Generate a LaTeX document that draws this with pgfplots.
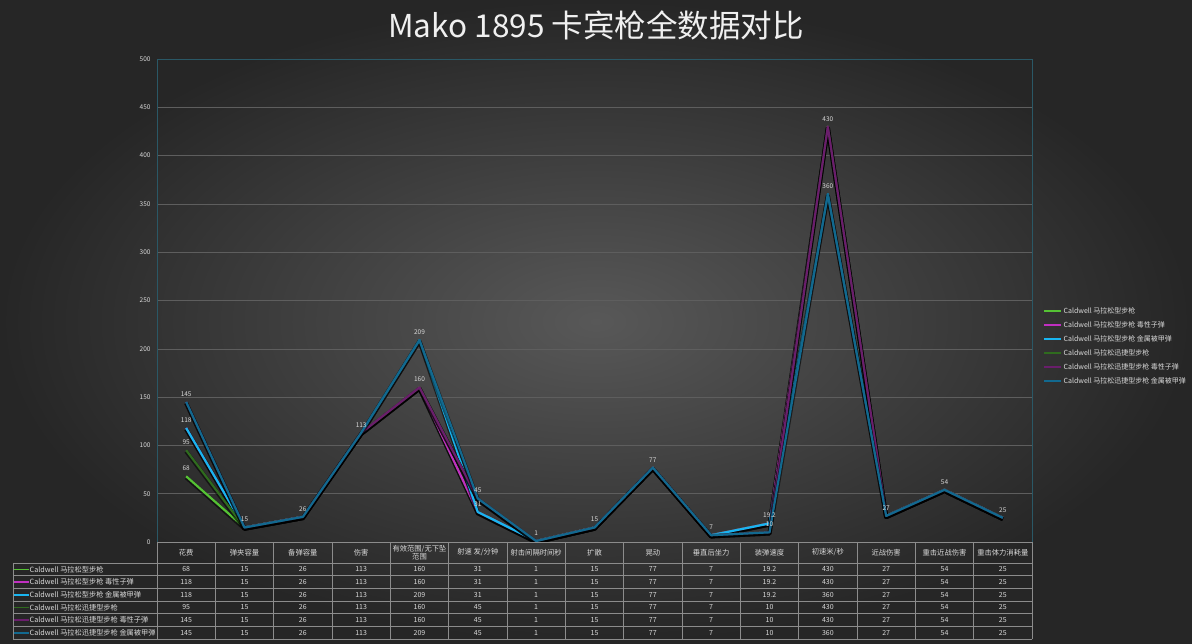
\documentclass[border=0pt]{standalone}
\usepackage{fontspec}
\setmainfont{Noto Sans CJK SC}
\usepackage{pgfplots}
\usepackage{pgfplotstable}
\pgfplotsset{compat=1.18}

\definecolor{bgin}{HTML}{585858}
\definecolor{bgout}{HTML}{262626}
\definecolor{sA}{HTML}{55C234}
\definecolor{sB}{HTML}{C02FC0}
\definecolor{sC}{HTML}{19B5F0}
\definecolor{sD}{HTML}{2F6B1E}
\definecolor{sE}{HTML}{6A1E6C}
\definecolor{sF}{HTML}{12698F}
\definecolor{txt}{HTML}{D9D9D9}
\definecolor{gridc}{HTML}{5E5E5E}
\definecolor{tbl}{HTML}{8C8C8C}
\definecolor{frame}{HTML}{2A5866}

% one row per category, one column per series
\pgfplotstableread{
x  s1   s2   s3   s4  s5  s6
0  68   118  118  95  145 145
1  15   15   15   15  15  15
2  26   26   26   26  26  26
3  113  113  113  113 113 113
4  160  160  209  160 160 209
5  31   31   31   45  45  45
6  1    1    1    1   1   1
7  15   15   15   15  15  15
8  77   77   77   77  77  77
9  7    7    7    7   7   7
10 19.2 19.2 19.2 10  10  10
11 430  430  360  430 430 360
12 27   27   27   27  27  27
13 54   54   54   54  54  54
14 25   25   25   25  25  25
}\datatable

\begin{document}
\begin{tikzpicture}
\begin{scope}[x=1pt,y=1pt]
\shade[inner color=bgin, outer color=bgout] (0,0) rectangle (1192,643);
\node[white!94!black, font=\fontsize{31.5}{32}\selectfont, anchor=base] at (596,605) {Mako 1895 卡宾枪全数据对比};
\end{scope}

\begin{axis}[
  at={(157pt,101pt)}, anchor=south west,
  scale only axis, width=875pt, height=483pt,
  xmin=-0.5, xmax=14.5, ymin=0, ymax=500,
  ytick={0,50,...,500}, xtick=\empty,
  ymajorgrids, grid style={gridc, line width=0.5pt},
  axis line style={frame, line width=0.6pt},
  major tick length=0pt,
  yticklabel style={txt, font=\fontsize{6.5}{6.5}\selectfont, xshift=-3pt},
  /pgf/number format/assume math mode=true,
  legend style={at={(1.009,0.406)}, anchor=west, fill=none, draw=none,
    text=txt, font=\fontsize{7}{7}\selectfont, row sep=2.6pt},
  legend cell align=left,
  legend image code/.code={\draw[#1, line width=1.6pt] (0pt,0pt) -- (17pt,0pt);},
  every axis plot/.append style={line join=round},
  shadow/.style={black, opacity=0.55, line width=4pt, forget plot, yshift=-1.2pt},
  lbl/.style={draw=none, mark=none, forget plot, nodes near coords,
    every node near coord/.append style={
    txt, font=\fontsize{6.5}{6.5}\selectfont, anchor=south, yshift=2pt, opacity=1}},
]
\addplot[shadow] table[x=x,y=s1]{\datatable};
\addplot[sA, line width=2.2pt] table[x=x,y=s1]{\datatable};
\addplot[shadow] table[x=x,y=s2]{\datatable};
\addplot[sB, line width=2.2pt] table[x=x,y=s2]{\datatable};
\addplot[shadow] table[x=x,y=s3]{\datatable};
\addplot[sC, line width=2.2pt] table[x=x,y=s3]{\datatable};
\addplot[shadow] table[x=x,y=s4]{\datatable};
\addplot[sD, line width=2.2pt] table[x=x,y=s4]{\datatable};
\addplot[shadow] table[x=x,y=s5]{\datatable};
\addplot[sE, line width=2.2pt] table[x=x,y=s5]{\datatable};
\addplot[shadow] table[x=x,y=s6]{\datatable};
\addplot[sF, line width=2.2pt] table[x=x,y=s6]{\datatable};
\legend{Caldwell 马拉松型步枪, Caldwell 马拉松型步枪 毒性子弹, Caldwell 马拉松型步枪 金属被甲弹,
  Caldwell 马拉松迅捷型步枪, Caldwell 马拉松迅捷型步枪 毒性子弹, Caldwell 马拉松迅捷型步枪 金属被甲弹}
% value labels, one per distinct value
\addplot[lbl] table[x=x,y=s6]{\datatable};
\addplot[lbl, skip coords between index={1}{4}, skip coords between index={6}{10},
  skip coords between index={12}{15}] table[x=x,y=s1]{\datatable};
\addplot[lbl, skip coords between index={1}{15}] table[x=x,y=s3]{\datatable};
\addplot[lbl, skip coords between index={1}{15}] table[x=x,y=s4]{\datatable};
\end{axis}

% data table under the plot
\begin{scope}[x=1pt,y=1pt]
\draw[tbl, line width=0.4pt] (157,101) -- (1032,101);
\foreach \r in {0,...,6}
  \draw[tbl, line width=0.4pt] (13,{80-12.667*\r}) -- (1032,{80-12.667*\r});
\foreach \k in {0,...,15}
  \draw[tbl, line width=0.4pt] ({157+58.333*\k},101) -- ({157+58.333*\k},4);
\draw[tbl, line width=0.4pt] (13,80) -- (13,4);

\foreach [count=\i from 0] \c in {花费, 弹夹容量, 备弹容量, 伤害, {有效范围/无下坠\\范围},
    射速 发/分钟, 射击间隔时间秒, 扩散, 晃动, 垂直后坐力, 装弹速度, 初速米/秒,
    近战伤害, 重击近战伤害, 重击体力消耗量}
  \node[txt, align=center, font=\fontsize{7.3}{8.5}\selectfont] at ({157+58.333*(\i+0.5)},90.5) {\c};

\foreach \n [count=\r from 0] in {Caldwell 马拉松型步枪, Caldwell 马拉松型步枪 毒性子弹,
    Caldwell 马拉松型步枪 金属被甲弹, Caldwell 马拉松迅捷型步枪,
    Caldwell 马拉松迅捷型步枪 毒性子弹, Caldwell 马拉松迅捷型步枪 金属被甲弹}
  \node[txt, anchor=west, inner sep=1pt, font=\fontsize{7.2}{7.2}\selectfont] at (28.5,{80-12.667*(\r+0.5)}) {\n};

\foreach \r in {0,...,5} {
  \pgfmathtruncatemacro\sc{\r+1}
  \foreach \c in {0,...,14} {
    \pgfplotstablegetelem{\c}{s\sc}\of\datatable
    \node[txt, font=\fontsize{7}{7}\selectfont] at ({157+58.333*(\c+0.5)},{80-12.667*(\r+0.5)}) {\pgfplotsretval};
  }
}

% legend keys of the table rows
\fill[sA, opacity=1] (14,72.6) rectangle (28.5,74.4);
\fill[sB, opacity=1] (14,59.9) rectangle (28.5,61.7);
\fill[sC, opacity=1] (14,47.3) rectangle (28.5,49.1);
\fill[sD, opacity=1] (14,34.6) rectangle (28.5,36.4);
\fill[sE, opacity=1] (14,21.9) rectangle (28.5,23.7);
\fill[sF, opacity=1] (14,9.2) rectangle (28.5,11.0);
\end{scope}
\end{tikzpicture}
\end{document}
